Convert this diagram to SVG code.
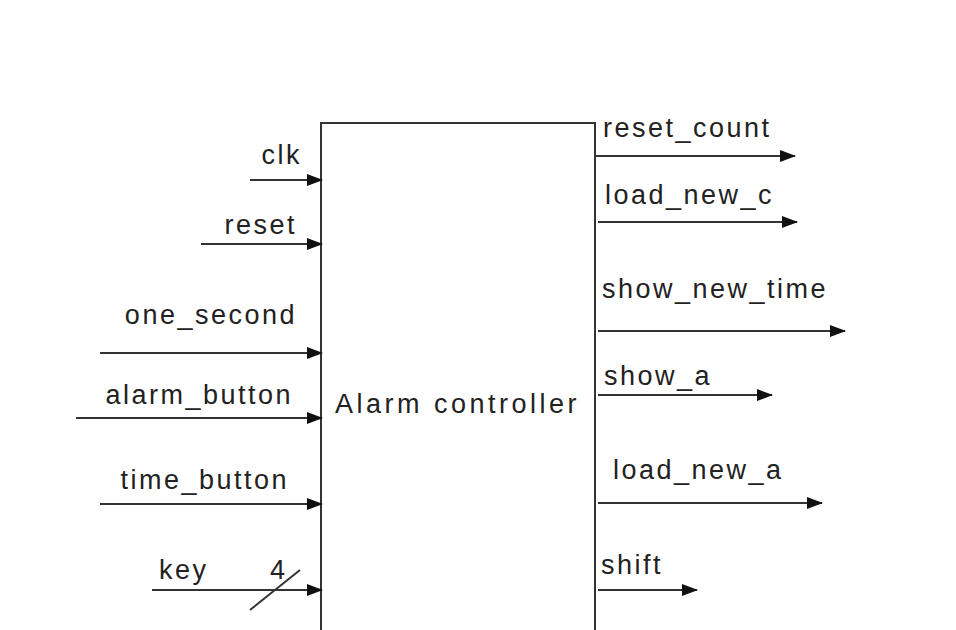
<svg xmlns="http://www.w3.org/2000/svg" width="956" height="630" viewBox="0 0 956 630">
<style>
text{font-family:"Liberation Sans",Arial,sans-serif;font-size:27px;letter-spacing:2.5px;fill:#222}
.w{stroke:#333;stroke-width:2;fill:none}
</style>
<defs><marker id="a" markerWidth="16" markerHeight="12" refX="15" refY="6" orient="auto" markerUnits="userSpaceOnUse"><path d="M0,0L16,6L0,12z" fill="#111"/></marker></defs>
<rect width="956" height="630" fill="#fff"/>
<g id="controller"><path class="w" d="M321,640V123H595V640" stroke-width="2.5"/><text x="335" y="413" style="letter-spacing:3.5px">Alarm controller</text></g>
<g id="connectors">
<line class="w" x1="250" y1="180" x2="322" y2="180" marker-end="url(#a)"/>
<line class="w" x1="201" y1="244" x2="322" y2="244" marker-end="url(#a)"/>
<line class="w" x1="100" y1="353" x2="322" y2="353" marker-end="url(#a)"/>
<line class="w" x1="76" y1="418" x2="322" y2="418" marker-end="url(#a)"/>
<line class="w" x1="100" y1="504" x2="322" y2="504" marker-end="url(#a)"/>
<line class="w" x1="152" y1="590" x2="322" y2="590" marker-end="url(#a)"/>
<line class="w" x1="250" y1="610" x2="300" y2="570"/>
<line class="w" x1="596" y1="156" x2="795" y2="156" marker-end="url(#a)"/>
<line class="w" x1="598" y1="222" x2="797" y2="222" marker-end="url(#a)"/>
<line class="w" x1="598" y1="331" x2="845" y2="331" marker-end="url(#a)"/>
<line class="w" x1="598" y1="395" x2="772" y2="395" marker-end="url(#a)"/>
<line class="w" x1="598" y1="503" x2="822" y2="503" marker-end="url(#a)"/>
<line class="w" x1="598" y1="590" x2="697" y2="590" marker-end="url(#a)"/>
</g>
<g id="in-clk"><text x="302" y="164" text-anchor="end">clk</text></g>
<g id="in-reset"><text x="297" y="234" text-anchor="end">reset</text></g>
<g id="in-one_second"><text x="297" y="324" text-anchor="end">one_second</text></g>
<g id="in-alarm_button"><text x="293" y="404" text-anchor="end">alarm_button</text></g>
<g id="in-time_button"><text x="289" y="489" text-anchor="end">time_button</text></g>
<g id="in-key"><text x="159" y="579">key</text><text x="270" y="579">4</text></g>
<g id="out-reset_count"><text x="603" y="137">reset_count</text></g>
<g id="out-load_new_c"><text x="605" y="204">load_new_c</text></g>
<g id="out-show_new_time"><text x="602" y="298">show_new_time</text></g>
<g id="out-show_a"><text x="604" y="385">show_a</text></g>
<g id="out-load_new_a"><text x="613" y="479">load_new_a</text></g>
<g id="out-shift"><text x="601" y="574">shift</text></g>
</svg>
